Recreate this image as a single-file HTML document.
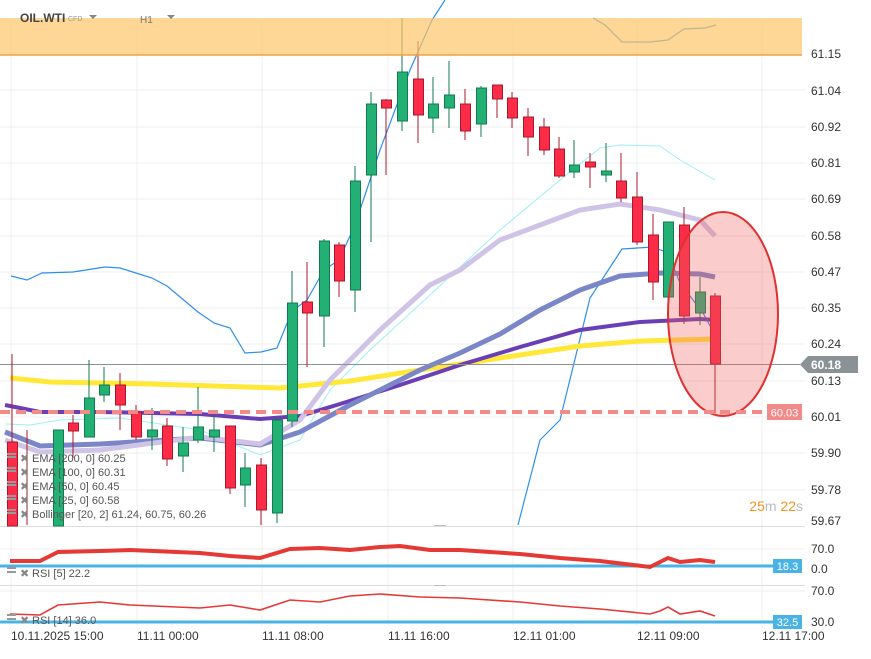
<!DOCTYPE html>
<html><head><meta charset="utf-8"><style>
html,body{margin:0;padding:0;background:#fff;}
svg{display:block;font-family:"Liberation Sans",sans-serif;}
</style></head><body>
<svg width="871" height="659" viewBox="0 0 871 659" xmlns="http://www.w3.org/2000/svg">
<rect width="871" height="659" fill="#fff"/>
<!-- grid -->
<g stroke="#efefef" stroke-width="1">
<line x1="0" y1="90" x2="805" y2="90"/><line x1="0" y1="127" x2="805" y2="127"/><line x1="0" y1="163" x2="805" y2="163"/><line x1="0" y1="199" x2="805" y2="199"/><line x1="0" y1="236" x2="805" y2="236"/><line x1="0" y1="272" x2="805" y2="272"/><line x1="0" y1="308" x2="805" y2="308"/><line x1="0" y1="344" x2="805" y2="344"/><line x1="0" y1="381" x2="805" y2="381"/><line x1="0" y1="417" x2="805" y2="417"/><line x1="0" y1="453" x2="805" y2="453"/><line x1="0" y1="490" x2="805" y2="490"/>
<line x1="0" y1="549" x2="805" y2="549"/><line x1="0" y1="591" x2="805" y2="591"/>
<line x1="11" y1="20" x2="11" y2="626"/><line x1="137" y1="20" x2="137" y2="626"/><line x1="262" y1="20" x2="262" y2="626"/><line x1="388" y1="20" x2="388" y2="626"/><line x1="513" y1="20" x2="513" y2="626"/><line x1="637" y1="20" x2="637" y2="626"/><line x1="762" y1="20" x2="762" y2="626"/>
</g>
<!-- panel separators -->
<line x1="0" y1="526.5" x2="805" y2="526.5" stroke="#ddd"/>
<line x1="0" y1="585.5" x2="805" y2="585.5" stroke="#ddd"/>
<line x1="434" y1="525.5" x2="446" y2="525.5" stroke="#bbb"/>
<line x1="434" y1="585.5" x2="446" y2="585.5" stroke="#bbb"/>

<!-- bollinger -->
<polyline fill="none" stroke="#9ef0f4" stroke-width="1" points="5,424 30,425 60,420 120,418 200,430 260,455 300,440 330,390 370,350 430,295 500,230 560,180 600,148 620,145 660,146 680,160 715,180"/>
<polyline fill="none" stroke="#2b8ff0" stroke-width="1.2" points="11,276 27,280 42,273 73,272 105,267 120,268 152,278 167,286 198,312 214,323 230,328 245,353 261,352 277,348 292,311 307,300 324,270 339,260 355,225 380,150 410,70 432,20 445,0"/>
<polyline fill="none" stroke="#2b8ff0" stroke-width="1.2" points="518,525 540,440 560,420 590,298 622,249 653,247 668,253 680,283 703,313 715,335"/>
<polyline fill="none" stroke="#2b8ff0" stroke-width="1.2" points="593,18 605,25 622,42 650,42 668,40 684,29 705,28 716,25"/>

<!-- EMAs -->
<polyline fill="none" stroke="#ffe838" stroke-width="5" points="10,378 50,382 150,384 280,388 350,381 420,370 500,358 580,346 640,341 715,339"/>
<polyline fill="none" stroke="#6a3fb5" stroke-width="4" points="5,405 40,412 100,412 200,414 260,419 300,416 340,404 400,385 460,365 520,347 580,330 640,322 700,319 715,320"/>
<polyline fill="none" stroke="#7b86c8" stroke-width="5" points="5,432 40,446 100,444 200,438 260,445 300,432 350,405 420,370 460,353 500,334 540,310 580,290 620,276 660,273 700,274 715,277"/>
<polyline fill="none" stroke="#d0c4e6" stroke-width="5" points="5,440 40,452 100,450 200,437 260,444 300,420 330,380 380,330 430,285 460,270 500,240 540,225 580,210 620,204 660,210 700,220 715,236"/>

<!-- last price line -->
<line x1="0" y1="364.5" x2="800" y2="364.5" stroke="#8a9296" stroke-width="1"/>

<!-- candles -->
<g stroke-width="1">
<g stroke="#a8182c" fill="#fc2b48">
<line x1="12" y1="354" x2="12" y2="525"/><rect x="7.5" y="442" width="10" height="84"/>
<line x1="27" y1="430" x2="27" y2="525"/>
<line x1="73" y1="415" x2="73" y2="458"/><rect x="68.5" y="423" width="10" height="8"/>
<line x1="120" y1="373" x2="120" y2="430"/><rect x="115.5" y="385" width="10" height="20"/>
<line x1="136" y1="405" x2="136" y2="440"/><rect x="131.5" y="412" width="10" height="25"/>
<line x1="167" y1="418" x2="167" y2="466"/><rect x="162.5" y="426" width="10" height="33"/>
<line x1="230" y1="426" x2="230" y2="494"/><rect x="225.5" y="426" width="10" height="62"/>
<line x1="261" y1="458" x2="261" y2="525"/><rect x="256.5" y="465" width="10" height="45"/>
<line x1="307" y1="262" x2="307" y2="367"/><rect x="302.5" y="302" width="10" height="11"/>
<line x1="339" y1="242" x2="339" y2="297"/><rect x="334.5" y="245" width="10" height="36"/>
<line x1="386" y1="99" x2="386" y2="175"/><rect x="381.5" y="100" width="10" height="8"/>
<line x1="418" y1="41" x2="418" y2="143"/><rect x="413.5" y="79" width="10" height="36"/>
<line x1="465" y1="89" x2="465" y2="140"/><rect x="460.5" y="104" width="10" height="27"/>
<line x1="497" y1="85" x2="497" y2="118"/><rect x="492.5" y="85" width="10" height="14"/>
<line x1="512" y1="92" x2="512" y2="128"/><rect x="507.5" y="98" width="10" height="20"/>
<line x1="528" y1="108" x2="528" y2="156"/><rect x="523.5" y="117" width="10" height="20"/>
<line x1="544" y1="118" x2="544" y2="155"/><rect x="539.5" y="127" width="10" height="23"/>
<line x1="559" y1="137" x2="559" y2="178"/><rect x="554.5" y="149" width="10" height="27"/>
<line x1="590" y1="153" x2="590" y2="188"/><rect x="585.5" y="162" width="10" height="5"/>
<line x1="621" y1="153" x2="621" y2="202"/><rect x="616.5" y="181" width="10" height="17"/>
<line x1="637" y1="172" x2="637" y2="245"/><rect x="632.5" y="197" width="10" height="45"/>
<line x1="653" y1="214" x2="653" y2="300"/><rect x="648.5" y="235" width="10" height="47"/>
<line x1="684" y1="207" x2="684" y2="324"/><rect x="679.5" y="225" width="10" height="91"/>
<line x1="715" y1="293" x2="715" y2="413"/><rect x="710.5" y="296" width="10" height="68"/>
</g>
<g stroke="#127a4e" fill="#23b074">
<rect x="53.5" y="430" width="10" height="96"/>
<line x1="89" y1="360" x2="89" y2="437"/><rect x="84.5" y="398" width="10" height="39"/>
<line x1="104" y1="367" x2="104" y2="402"/><rect x="99.5" y="385" width="10" height="10"/>
<line x1="152" y1="408" x2="152" y2="450"/><rect x="147.5" y="430" width="10" height="7"/>
<line x1="183" y1="427" x2="183" y2="472"/><rect x="178.5" y="443" width="10" height="13"/>
<line x1="198" y1="387" x2="198" y2="443"/><rect x="193.5" y="427" width="10" height="13"/>
<line x1="214" y1="415" x2="214" y2="452"/><rect x="209.5" y="430" width="10" height="7"/>
<line x1="245" y1="453" x2="245" y2="507"/><rect x="240.5" y="468" width="10" height="17"/>
<line x1="277" y1="418" x2="277" y2="523"/><rect x="272.5" y="420" width="10" height="93"/>
<line x1="292" y1="271" x2="292" y2="427"/><rect x="287.5" y="303" width="10" height="118"/>
<line x1="324" y1="239" x2="324" y2="347"/><rect x="319.5" y="241" width="10" height="75"/>
<line x1="355" y1="166" x2="355" y2="312"/><rect x="350.5" y="181" width="10" height="109"/>
<line x1="371" y1="92" x2="371" y2="242"/><rect x="366.5" y="104" width="10" height="71"/>
<line x1="402" y1="18" x2="402" y2="131"/><rect x="397.5" y="72" width="10" height="49"/>
<line x1="433" y1="77" x2="433" y2="133"/><rect x="428.5" y="104" width="10" height="14"/>
<line x1="449" y1="61" x2="449" y2="128"/><rect x="444.5" y="95" width="10" height="13"/>
<line x1="481" y1="86" x2="481" y2="137"/><rect x="476.5" y="88" width="10" height="36"/>
<line x1="574" y1="140" x2="574" y2="178"/><rect x="569.5" y="165" width="10" height="7"/>
<line x1="606" y1="143" x2="606" y2="182"/><rect x="601.5" y="171" width="10" height="4"/>
<line x1="668" y1="222" x2="668" y2="313"/><rect x="663.5" y="222" width="10" height="75"/>
<line x1="700" y1="277" x2="700" y2="325"/><rect x="695.5" y="292" width="10" height="21"/>
</g>
</g>

<!-- top band -->
<rect x="0" y="18" width="802" height="37" fill="#fdc46a" fill-opacity="0.7"/>
<line x1="0" y1="55" x2="802" y2="55" stroke="#f0a040" stroke-width="1.5"/>

<!-- ellipse -->
<ellipse cx="723" cy="314" rx="55" ry="102" fill="#f06060" fill-opacity="0.32" stroke="#e03030" stroke-width="2"/>

<!-- dashed level -->
<line x1="0" y1="412" x2="766" y2="412" stroke="#f28a8a" stroke-width="4" stroke-dasharray="10,6"/>
<rect x="767" y="404" width="35" height="16" fill="#f28a8a"/>
<text x="784.5" y="416.5" font-size="11" fill="#fff" text-anchor="middle">60.03</text>

<!-- price label -->
<path d="M800,364.5 L808,356 L858,356 L858,373 L808,373 Z" fill="#8a9296"/>
<text x="811" y="369" font-size="12" font-weight="bold" fill="#fff">60.18</text>

<!-- y labels -->
<g font-size="12" fill="#333">
<text x="811" y="58">61.15</text><text x="811" y="95">61.04</text><text x="811" y="131">60.92</text><text x="811" y="167">60.81</text><text x="811" y="203">60.69</text><text x="811" y="240">60.58</text><text x="811" y="276">60.47</text><text x="811" y="312">60.35</text><text x="811" y="348">60.24</text><text x="811" y="385">60.13</text><text x="811" y="421">60.01</text><text x="811" y="457">59.90</text><text x="811" y="494">59.78</text><text x="811" y="525">59.67</text>
<text x="811" y="553">70.0</text><text x="811" y="573">0.0</text>
<text x="811" y="595">70.0</text><text x="811" y="626">30.0</text>
</g>
<g font-size="12" fill="#333">
<text x="11" y="640">10.11.2025  15:00</text>
<text x="137" y="640">11.11  00:00</text>
<text x="262" y="640">11.11  08:00</text>
<text x="388" y="640">11.11  16:00</text>
<text x="513" y="640">12.11  01:00</text>
<text x="637" y="640">12.11  09:00</text>
<text x="762" y="640">12.11  17:00</text>
</g>

<!-- timer -->
<text x="803" y="511" font-size="14" text-anchor="end"><tspan fill="#f7931e">25</tspan><tspan fill="#bbb">m </tspan><tspan fill="#f7931e">22</tspan><tspan fill="#bbb">s</tspan></text>

<!-- RSI 5 -->
<line x1="0" y1="566" x2="773" y2="566" stroke="#4ab3e6" stroke-width="3"/>
<polyline fill="none" stroke="#e53935" stroke-width="4" points="10,561 40,561 58,552 100,551 130,550 200,553 230,556 260,558 290,549 320,548 350,550 380,547 400,546 430,550 460,550 520,554 560,558 600,561 650,567 668,558 680,562 700,560 715,562"/>
<rect x="773" y="559" width="29" height="14" fill="#4ab3e6"/>
<text x="787.5" y="570" font-size="11" fill="#fff" text-anchor="middle">18.3</text>
<!-- RSI 14 -->
<line x1="0" y1="622" x2="773" y2="622" stroke="#4ab3e6" stroke-width="3"/>
<polyline fill="none" stroke="#e53935" stroke-width="1.6" points="10,614 40,615 58,605 100,602 130,605 200,608 230,605 260,610 290,600 320,602 350,596 380,594 420,597 460,598 520,602 560,606 600,609 650,614 660,611 668,607 680,614 700,611 715,616"/>
<rect x="773" y="615" width="29" height="14" fill="#4ab3e6"/>
<text x="787.5" y="626" font-size="11" fill="#fff" text-anchor="middle">32.5</text>

<!-- legends -->
<g font-size="11" fill="#555">
<g fill="#999"><rect x="7" y="453" width="9" height="2"/><rect x="7" y="456" width="9" height="2"/><rect x="7" y="467" width="9" height="2"/><rect x="7" y="470" width="9" height="2"/><rect x="7" y="481" width="9" height="2"/><rect x="7" y="484" width="9" height="2"/><rect x="7" y="495" width="9" height="2"/><rect x="7" y="498" width="9" height="2"/><rect x="7" y="509" width="9" height="2"/><rect x="7" y="512" width="9" height="2"/>
<rect x="7" y="567" width="9" height="2"/><rect x="7" y="571" width="9" height="2"/><rect x="7" y="614" width="9" height="2"/><rect x="7" y="618" width="9" height="2"/></g>
<text x="20" y="462" fill="#888">✖</text><text x="32" y="462">EMA [200, 0] 60.25</text>
<text x="20" y="476" fill="#888">✖</text><text x="32" y="476">EMA [100, 0] 60.31</text>
<text x="20" y="490" fill="#888">✖</text><text x="32" y="490">EMA [50, 0] 60.45</text>
<text x="20" y="504" fill="#888">✖</text><text x="32" y="504">EMA [25, 0] 60.58</text>
<text x="20" y="518" fill="#888">✖</text><text x="32" y="518">Bollinger  [20, 2] 61.24,  60.75,  60.26</text>
<text x="20" y="577" fill="#888">✖</text><text x="32" y="577">RSI [5] 22.2</text>
<text x="20" y="624" fill="#888">✖</text><text x="32" y="624">RSI [14] 36.0</text>
</g>

<!-- header -->
<text x="20" y="22" font-size="12" font-weight="bold" fill="#444">OIL.WTI</text>
<text x="68" y="21" font-size="7" fill="#999">CFD</text>
<path d="M89,15 L97,15 L93,19 Z" fill="#888"/>
<text x="140" y="23" font-size="10" fill="#777">H1</text>
<path d="M167,15 L175,15 L171,19 Z" fill="#888"/>
</svg>
</body></html>
